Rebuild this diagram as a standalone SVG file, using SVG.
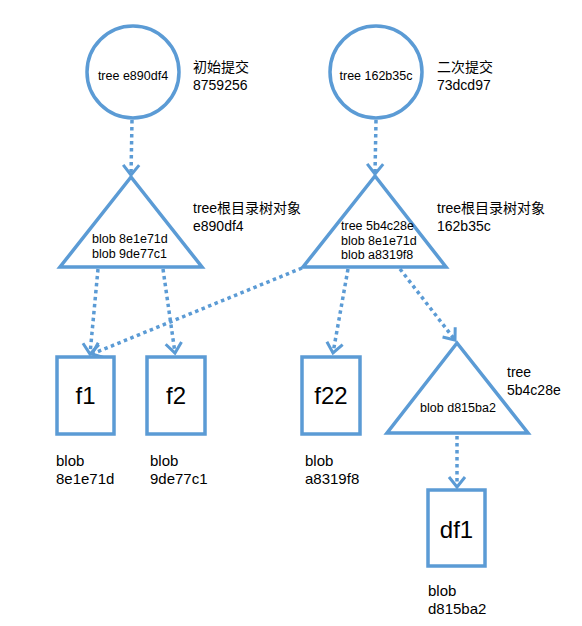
<svg xmlns="http://www.w3.org/2000/svg" width="582" height="626" viewBox="0 0 582 626">
<style>
.shape{fill:#fff;stroke:#5B9BD5;stroke-width:3.5}
.conn{fill:none;stroke:#5B9BD5;stroke-width:3.5;stroke-dasharray:3.5 3.5}
.t{font-family:"Liberation Sans","Noto Sans CJK SC",sans-serif;fill:#000}
.s{font-size:12.5px}
.m{font-size:14px}
.l{font-size:15px}
.b{font-size:24px;text-anchor:middle}
.c{text-anchor:middle}
</style>
<defs>
<marker id="arr" markerUnits="userSpaceOnUse" markerWidth="20" markerHeight="20" viewBox="-12 -10 14 20" refX="0" refY="0" orient="auto">
<path d="M-10,-8 L0,0 L-10,8" fill="none" stroke="#5B9BD5" stroke-width="3"/>
</marker>
</defs>
<g id="connectors">
<line class="conn" x1="132" y1="120" x2="131" y2="175" marker-end="url(#arr)"/>
<line class="conn" x1="376" y1="120" x2="375" y2="174" marker-end="url(#arr)"/>
<line class="conn" x1="98" y1="269" x2="90" y2="354" marker-end="url(#arr)"/>
<line class="conn" x1="163" y1="269" x2="175" y2="353" marker-end="url(#arr)"/>
<line class="conn" x1="302" y1="268" x2="92" y2="354" marker-end="url(#arr)"/>
<line class="conn" x1="348" y1="269" x2="333" y2="353" marker-end="url(#arr)"/>
<line class="conn" x1="400" y1="269" x2="455" y2="340" marker-end="url(#arr)"/>
<line class="conn" x1="457" y1="436" x2="457" y2="487" marker-end="url(#arr)"/>
</g>
<g id="commit1">
<circle class="shape" cx="133" cy="72" r="46"/>
<text class="t s c" x="133" y="80">tree e890df4</text>
<text class="t m" x="193" y="72">初始提交</text>
<text class="t m" x="193" y="90">8759256</text>
</g>
<g id="commit2">
<circle class="shape" cx="376" cy="72" r="46"/>
<text class="t s c" x="376" y="80">tree 162b35c</text>
<text class="t m" x="437" y="72">二次提交</text>
<text class="t m" x="437" y="90">73dcd97</text>
</g>
<g id="tree1">
<polygon class="shape" points="131,177 60,267 202,267"/>
<text class="t s" x="92" y="243">blob 8e1e71d</text>
<text class="t s" x="92" y="258">blob 9de77c1</text>
<text class="t m" x="193" y="213">tree根目录树对象</text>
<text class="t m" x="193" y="231">e890df4</text>
</g>
<g id="tree2">
<polygon class="shape" points="375,176 303,267 446,267"/>
<text class="t s" x="341" y="230">tree 5b4c28e</text>
<text class="t s" x="341" y="245">blob 8e1e71d</text>
<text class="t s" x="341" y="259">blob a8319f8</text>
<text class="t m" x="437" y="213">tree根目录树对象</text>
<text class="t m" x="437" y="231">162b35c</text>
</g>
<g id="f1">
<rect class="shape" x="57" y="357" width="57" height="77"/>
<text class="t b" x="85.5" y="404">f1</text>
<text class="t l" x="56" y="466">blob</text>
<text class="t l" x="56" y="484">8e1e71d</text>
</g>
<g id="f2">
<rect class="shape" x="147" y="357" width="58" height="77"/>
<text class="t b" x="176" y="404">f2</text>
<text class="t l" x="150" y="466">blob</text>
<text class="t l" x="150" y="484">9de77c1</text>
</g>
<g id="f22">
<rect class="shape" x="302" y="357" width="58" height="77"/>
<text class="t b" x="331" y="404">f22</text>
<text class="t l" x="305" y="466">blob</text>
<text class="t l" x="305" y="484">a8319f8</text>
</g>
<g id="tree3">
<polygon class="shape" points="457,343 387,433 528,433"/>
<text class="t s c" x="458" y="412">blob d815ba2</text>
<text class="t m" x="507" y="377">tree</text>
<text class="t m" x="507" y="395">5b4c28e</text>
</g>
<g id="df1">
<rect class="shape" x="428" y="490" width="57" height="76"/>
<text class="t b" x="456.5" y="538">df1</text>
<text class="t l" x="428" y="596">blob</text>
<text class="t l" x="428" y="614">d815ba2</text>
</g>
</svg>
